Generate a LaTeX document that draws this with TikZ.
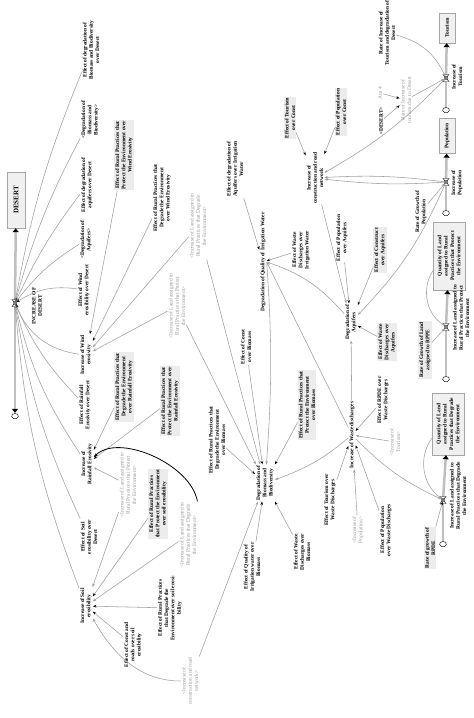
\documentclass[tikz,border=0pt]{standalone}
\usepackage{fontspec}
\setmainfont{Liberation Serif}
\usetikzlibrary{arrows.meta,shapes.symbols}
\begin{document}
\begin{tikzpicture}[x=1pt,y=-1pt,
  lbl/.style={rotate=90,align=center,font=\fontsize{5.4}{6.3}\selectfont\bfseries,inner sep=1pt},
  shd/.style={rotate=90,align=center,font=\fontsize{5.4}{6.3}\selectfont,text=gray!80,inner sep=1pt},
  hl/.style={lbl,fill=gray!15},
  stockbox/.style={rotate=90,draw=gray!70,fill=gray!12,align=center,font=\fontsize{5.4}{6.3}\selectfont\bfseries,inner sep=2pt},
  conn/.style={draw=gray!75,line width=0.55pt,-{Stealth[length=3.5pt,width=2.6pt]}},
  connb/.style={draw=gray!75,line width=0.55pt,-{Stealth[length=3.5pt,width=2.6pt,color=black]}},
  pipe/.style={draw=gray!50,line width=2.5pt,-{Triangle[length=4pt,width=6pt,color=black]}},
  pipeplain/.style={draw=gray!50,line width=2.5pt},
  valve/.style={circle,draw=black,fill=white,inner sep=0pt,minimum size=3pt,line width=0.4pt},
  cloudn/.style={cloud,cloud puffs=7,draw=black,fill=white,inner sep=0pt,minimum width=7pt,minimum height=6pt,line width=0.4pt},
]
\fill[white] (0,0) rectangle (474,718);
\useasboundingbox (0,0) rectangle (474,718);

% ---------- stocks ----------
\node[stockbox,font=\fontsize{7}{8}\selectfont\bfseries,minimum width=56pt,minimum height=18pt] (stD) at (16,200) {DESERT};
\node[stockbox,minimum width=30pt,minimum height=16pt] (stT) at (447,28) {Tourism};
\node[stockbox,minimum width=35pt,minimum height=16pt] (stP) at (447,136) {Population};
\node[stockbox,minimum width=68pt,minimum height=32pt] (stPE) at (449,256) {Quantity of Land\\assigned to Rural\\Practices that Protect\\the Environment};
\node[stockbox,minimum width=62pt,minimum height=32pt] (stDE) at (448,424) {Quantity of Land\\assigned to Rural\\Practices that Degrade\\the Environment};

\node[cloudn] (cD) at (15,416) {};
\node[cloudn] (cT) at (446,110) {};
\node[cloudn] (cP) at (446,213) {};
\node[cloudn] (cPE) at (446,379) {};
\node[cloudn] (cDE) at (443,544) {};

\coordinate (pD) at (15,303);
\coordinate (pT) at (446,78);
\coordinate (pP) at (446,182);
\coordinate (pPE) at (446,327);
\coordinate (pDE) at (443,500);

\draw[pipe] (pD) -- (stD);
\draw[pipe] (pD) -- (cD);
\draw[pipeplain] (cT) -- (pT); \draw[pipe] (pT) -- (stT);
\draw[pipeplain] (cP) -- (pP); \draw[pipe] (pP) -- (stP);
\draw[pipeplain] (cPE) -- (pPE); \draw[pipe] (pPE) -- (stPE);
\draw[pipeplain] (cDE) -- (pDE); \draw[pipe] (pDE) -- (stDE);

\foreach \p in {pD,pT,pP,pPE,pDE}{
  \draw[fill=white,line width=0.4pt] (\p) +(-3,-3.5) -- +(3,-3.5) -- +(-3,3.5) -- +(3,3.5) -- cycle;
}
\node[valve] (vD) at (pD) {};
\node[valve] (vT) at (pT) {};
\node[valve] (vP) at (pP) {};
\node[valve] (vPE) at (pPE) {};
\node[valve] (vDE) at (pDE) {};

% ---------- labels ----------
\node[lbl] (n61) at (37,306) {INCREASE OF\\DESERT};
\node[lbl] (n1) at (91,50) {Effect of degradation of\\Biomass and Biodiversity\\over Desert};
\node[lbl] (n2) at (90,120) {<Degradation of\\Biomass and\\Biodiversity>};
\node[lbl] (n3) at (87,185) {Effect of degradation of\\aquifers over Desert};
\node[lbl] (n4) at (86,240) {<Degradation of\\Aquifers>};
\node[lbl] (n5) at (84,290) {Effect of Wind\\erosibility over Desert};
\node[lbl] (n6) at (86,355) {Increase of Wind\\erosivity};
\node[lbl] (n7) at (85,405) {Effect of Rainfall\\Erosivity over Desert};
\node[lbl] (n8) at (87,464) {Increase of\\Rainfall Erosivity};
\node[lbl] (n9) at (89,537) {Effect of Soil\\erosibility over\\Desert};
\node[lbl] (n10) at (86,606) {Increase of Soil\\erosibility};
\node[lbl] (n11) at (133,645) {Effect of Const and\\roads over soil\\erosibility};
\node[hl] (n12) at (124,155) {Effect of Rural Practices that\\Protect the Environment over\\Wind Erosivity};
\node[lbl] (n13) at (162,198) {Effect of Rural Practices that\\Degrade the Environment\\over Wind Erosivity};
\node[hl] (n14) at (124,387) {Effect of Rural Practices that\\Degrade the Environment\\over Rainfall Erosivity};
\node[hl] (n15) at (170,401) {Effect of Rural Practices that\\Protect the Environment over\\Rainfall Erosivity};
\node[shd] (n16) at (198,226) {<Increase of Land assigned to\\Rural Practices that Degrade\\the Environment>};
\node[shd] (n17) at (177,306) {<Increase of Land assigned to\\Rural Practices that Protect\\the Environment>};
\node[shd] (n18) at (128,485) {<Increase of Land assigned to\\Rural Practices that Protect\\the Environment>};
\node[hl] (n19) at (158,504) {Effect of Rural Practices\\that Protect the Environment\\over soil erosibility};
\node[shd] (n20) at (188,535) {<Increase of Land assigned to\\Rural Practices that Degrade\\the Environment>};
\node[lbl] (n21) at (170,608) {Effect of Rural Practices\\that Degrade the\\Environment over soil erosi-\\bility};
\node[shd] (n22) at (190,681) {<Increase of\\construction and road\\network>};
\node[lbl] (n23) at (217,440) {Effect of Rural Practices that\\Degrade the Environment\\over Biomass};
\node[lbl] (n24) at (246,347) {Effect of Const\\over Biomass};
\node[lbl] (n25) at (235,169) {Effect of degradation of\\Aquifers over Irrigation\\Water};
\node[lbl] (n26) at (263,262) {Degradation of Quality of Irrigation Water};
\node[lbl] (n27) at (265,483) {Degradation of\\Biomass and\\Biodiversity};
\node[lbl] (n28) at (252,567) {Effect of Quality of\\Irrigation water over\\Biomass};
\node[lbl] (n29) at (302,552) {Effect of Waste\\Discharges over\\Biomass};
\node[hl] (n30) at (307,405) {Effect of Rural Practices that\\Protect the Environment\\over Biomass};
\node[lbl] (n31) at (301,250) {Effect of Waste\\Discharges over\\Irrigation Water};
\node[hl] (n32) at (290,118) {Effect of Tourism\\over Const};
\node[hl] (n33) at (341,112) {Effect of Population\\over Const};
\node[lbl] (n34) at (315,178) {Increase of\\construction and road\\network};
\node[lbl] (n35) at (342,238) {Effect of Population\\over Aquifers};
\node[hl] (n36) at (380,250) {Effect of Construct\\over Aquifers};
\node[lbl] (n37) at (351,322) {Degradation of\\Aquifers};
\node[hl] (n38) at (387,342) {Effect of Waste\\Discharges over\\Aquifers};
\node[lbl] (n39) at (352,435) {Increase of Waste discharges};
\node[lbl] (n40) at (383,400) {Effect of RPDE over\\Waste Discharges};
\node[shd] (n41) at (395,442) {<Increase of\\Tourism>};
\node[lbl] (n42) at (330,500) {Effect of Tourism over\\Waste Discharges};
\node[shd] (n43) at (358,530) {<Increase of\\Population>};
\node[lbl] (n44) at (386,530) {Effect of Population\\over Waste Discharges};
\node[lbl] (n46) at (458,496) {Increase of Land assigned to\\Rural Practices that Degrade\\the Environment};
\node[hl] (n47) at (430,548) {Rate of growth of\\RPDE};
\node[lbl] (n49) at (461,318) {Increase of Land assigned to\\Rural Practices that Protect\\the Environment};
\node[hl] (n50) at (425,350) {Rate of Growth of Land\\assigned to RPPE};
\node[lbl] (n52) at (457,183) {Increase of\\Population};
\node[lbl] (n53) at (421,212) {Rate of Growth of\\Population};
\node[lbl] (n55) at (457,77) {Increase of\\Tourism};
\node[lbl] (n56) at (387,33) {Rate of Increase of\\Tourism and degradation of\\Desert};
\node[shd] (n57) at (406,100) {Rate of Increase of\\tourism due to Desert};
\node[shd] (n58) at (380,93) {Aux 4};
\node[lbl] (n59) at (381,121) {<DESERT>};

% ---------- connectors: desert valve ----------
\draw[connb] (n1) to[bend right=6] (vD);
\draw[conn] (n2) to[bend right=6] (vD);
\draw[connb] (n3) to[bend right=6] (vD);
\draw[conn] (n4) to[bend right=10] (vD);
\draw[connb] (n5) to[bend right=20] (vD);
\draw[conn] (n6) to[bend left=30] (vD);
\draw[connb] (n7) to[bend left=10] (vD);
\draw[conn] (n8) to[bend left=10] (vD);
\draw[connb] (n9) to[bend left=8] (vD);
\draw[conn] (n10) to[bend left=8] (vD);

% ---------- left region ----------
\draw[connb] (n12) -- (n6);
\draw[connb] (n13) -- (n6);
\draw[conn] (n16) -- (n6);
\draw[conn] (n17) -- (n6);
\draw[connb] (n14) -- (n8);
\draw[connb] (n15) -- (n8);
\draw[conn] (n18) -- (n8);
\draw[black,line width=0.8pt,-{Stealth[length=4pt,width=3pt]}] (n20.south east) to[out=100,in=15,looseness=0.75] (n8);
\draw[conn] (n18) -- (n10);
\draw[connb] (n19) -- (n10);
\draw[conn] (n20) -- (n10);
\draw[connb] (n21) -- (n10);
\draw[connb] (n11) -- (n10);
\draw[conn] (n22.north) to[out=180,in=-70] (n10);

% ---------- biomass ----------
\draw[conn] (n16) -- (n27);
\draw[conn] (n17) -- (n27);
\draw[connb] (n24) -- (n27);
\draw[connb] (n23) -- (n27);
\draw[connb] (n30) -- (n27);
\draw[conn] (n22) -- (n27);
\draw[connb] (n28) -- (n27);
\draw[connb] (n29) -- (n27);
\draw[conn] (n26.south) to[bend left=4] (n27);
\draw[conn] (n39) to[bend left=10] (n27);

% ---------- irrigation water ----------
\draw[connb] (n25) -- (n26);
\draw[connb] (n31) -- (n26);
\draw[conn] (n37) to[bend right=15] (n26.south);
\draw[conn] (n39) -- (n26.south);

% ---------- aquifers ----------
\draw[conn] (n34) -- (n37);
\draw[connb] (n35) -- (n37);
\draw[connb] (n36) -- (n37);
\draw[connb] (n38) -- (n37);
\draw[conn] (n39) -- (n37);
\draw[conn] (vP) to[bend left=10] (n37);

% ---------- construction ----------
\draw[connb] (n32) -- (n34);
\draw[connb] (n33) -- (n34);
\draw[conn] (vT) to[bend left=8] (n34);
\draw[conn] (vP) to[bend left=5] (n34);
\draw[conn] (vP) to[bend right=5] (n34);

% ---------- tourism / population ----------
\draw[conn] (n56) to[bend left=25] (vT);
\draw[connb] (n58) -- (n57);
\draw[connb] (n59) -- (n57);
\draw[conn] (n57) -- (vT);
\draw[conn] (n53) -- (vP);

% ---------- waste discharges ----------
\draw[connb] (n40) -- (n39);
\draw[conn] (n41) -- (n39);
\draw[connb] (n42) -- (n39);
\draw[conn] (n43) -- (n39);
\draw[connb] (n44) -- (n39);

% ---------- land stocks ----------
\draw[connb] (n47) -- (vDE);
\draw[conn] (stDE) to[bend right=45] (vDE);
\draw[conn] (n39) to[bend right=10] (vDE);
\draw[conn] (stPE) to[bend right=45] (vPE);
\draw[conn] (n50) -- (vPE);
\end{tikzpicture}
\end{document}
